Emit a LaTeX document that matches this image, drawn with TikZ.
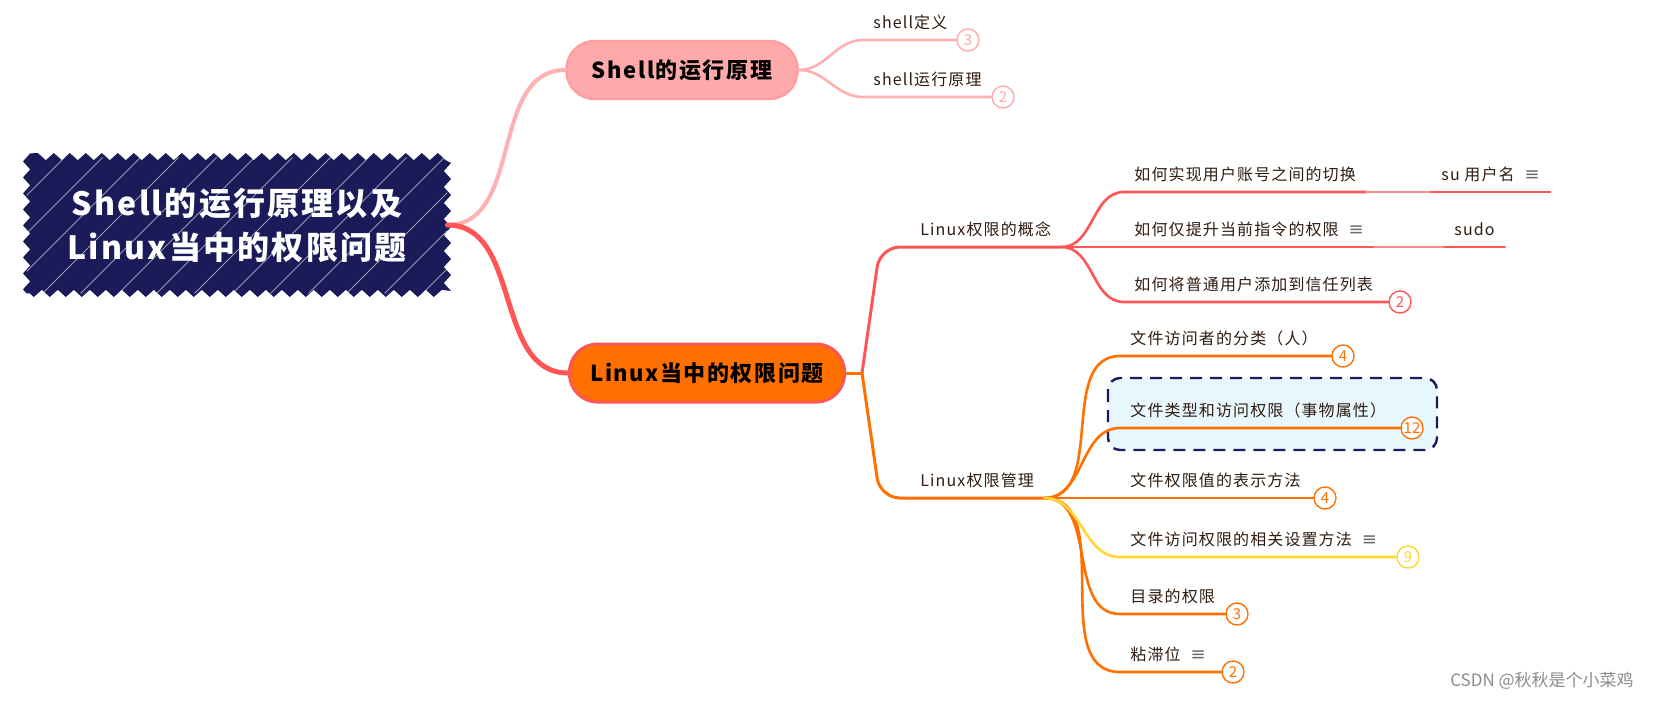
\documentclass[tikz,border=0pt]{standalone}
\usepackage{fontspec}
\setmainfont{Noto Sans CJK SC}[LetterSpace=7]
\newfontfamily\plainfont{Noto Sans CJK SC}
\newfontfamily\symfont{DejaVu Sans}
\usetikzlibrary{positioning, calc, backgrounds, decorations.pathmorphing}
\definecolor{rootnavy}{RGB}{27,27,90}
\definecolor{shellpink}{RGB}{255,170,170}
\definecolor{shelledge}{RGB}{255,158,158}
\definecolor{linkpink}{RGB}{255,176,176}
\definecolor{permred}{RGB}{255,85,85}
\definecolor{softred}{RGB}{255,140,140}
\definecolor{permorange}{RGB}{255,112,0}
\definecolor{noteyellow}{RGB}{255,214,50}
\definecolor{boxblue}{RGB}{232,246,254}
\definecolor{leaftext}{RGB}{48,28,16}
\definecolor{icongray}{RGB}{105,105,105}
\newcommand{\noteicon}{\hspace{5pt}{\symfont\fontsize{9}{9}\selectfont\color{icongray}≡}}
\tikzset{
  roottopic/.style={rectangle, minimum width=210pt, minimum height=68pt,
    align=center, text=white, font=\fontsize{16}{22}\selectfont\bfseries},
  topic/.style={rectangle, rounded corners=14pt, minimum height=29pt,
    font=\fontsize{11}{13}\selectfont\bfseries, text=black, line width=1.2pt},
  leaf/.style={anchor=south west, inner xsep=5pt, inner ysep=4.5pt,
    text height=7pt, text depth=1.2pt,
    font=\fontsize{8}{10}\selectfont, text=leaftext},
  badge/.style={circle, draw=#1, fill=white, text=#1, minimum size=11pt,
    inner sep=0pt, line width=0.7pt, font=\plainfont\fontsize{7.5}{8}\selectfont},
  link/.style={line width=#1, line cap=round},
  notebox/.style={draw=rootnavy, fill=boxblue, dashed, dash pattern=on 6pt off 4pt,
    line width=1.2pt, rounded corners=6pt}
}
\begin{document}
\begin{tikzpicture}[x=0.5pt, y=-0.5pt]
  \useasboundingbox (0,0) rectangle (1673,702);

  % central topic
  \node[roottopic] (root) at (237,225) {Shell的运行原理以及\\Linux当中的权限问题};

  % main topics
  \node[topic, fill=shellpink, draw=shelledge, minimum width=115.5pt] (shell) at (682,70) {Shell的运行原理};
  \node[topic, fill=permorange, draw=permred, line width=1.5pt, minimum width=137.5pt] (linux) at (707,373) {Linux当中的权限问题};

  \draw[link=2pt, linkpink] (root.east) to[out=0, in=180] (shell.west);
  \draw[link=2.5pt, permred] (root.east) to[out=0, in=180] (linux.west);

  % shell branch
  \node[leaf] (sdef) at (863,40) {shell定义};
  \node[badge=shellpink] (sdefn) at (968,40) {3};
  \node[leaf] (srun) at (863,97) {shell运行原理};
  \node[badge=shellpink] (srunn) at (1003,97) {2};
  \draw[link=1.3pt, linkpink] (shell.east) to[out=0, in=180] (sdef.south west) -- (sdefn);
  \draw[link=1.3pt, linkpink] (shell.east) to[out=0, in=180] (srun.south west) -- (srunn);

  % fork after the permission topic
  \coordinate (linuxfork) at (862,373);
  \draw[link=1.5pt, permorange] (linux.east) -- (linuxfork);

  % permission concepts
  \node[leaf] (concept) at (910,247) {Linux权限的概念};
  \draw[link=1.5pt, permred, rounded corners=10pt] (linuxfork) -- (880,247) -- (concept.south east);

  \node[leaf] (switch) at (1124,192) {如何实现用户账号之间的切换};
  \node[leaf] (su) at (1431,192) {su 用户名\noteicon};
  \node[leaf] (elevate) at (1124,247) {如何仅提升当前指令的权限\noteicon};
  \node[leaf] (sudo) at (1444,247) {sudo};
  \node[leaf] (trust) at (1124,302) {如何将普通用户添加到信任列表};
  \node[badge=permred] (trustn) at (1400,302) {2};

  \draw[link=1.3pt, permred] (concept.south east) to[out=0, in=180] (switch.south west) -- (switch.south east);
  \draw[link=1.3pt, permred] (concept.south east) to[out=0, in=180] (elevate.south west) -- (elevate.south east);
  \draw[link=1.3pt, permred] (concept.south east) to[out=0, in=180] (trust.south west) -- (trustn);
  \draw[link=1pt, softred] (switch.south east) -- (su.south west);
  \draw[link=1pt, permred] (su.south west) -- (su.south east);
  \draw[link=1pt, softred] (elevate.south east) -- (sudo.south west);
  \draw[link=1pt, permred] (sudo.south west) -- (sudo.south east);

  % permission management
  \node[leaf] (manage) at (910,498) {Linux权限管理};
  \draw[link=1.5pt, permorange, rounded corners=10pt] (linuxfork) -- (880,498) -- (manage.south east);

  \node[leaf] (visitor) at (1120,356) {文件访问者的分类（人）};
  \node[badge=permorange] (visitorn) at (1343,356) {4};
  \node[leaf] (ftype) at (1120,428) {文件类型和访问权限（事物属性）};
  \node[badge=permorange] (ftypen) at (1412,428) {12};
  \node[leaf] (fvalue) at (1120,498) {文件权限值的表示方法};
  \node[badge=permorange] (fvaluen) at (1325,498) {4};
  \node[leaf] (fset) at (1120,557) {文件访问权限的相关设置方法\noteicon};
  \node[badge=noteyellow] (fsetn) at (1408,557) {9};
  \node[leaf] (fdir) at (1120,614) {目录的权限};
  \node[badge=permorange] (fdirn) at (1237,614) {3};
  \node[leaf] (sticky) at (1120,672) {粘滞位\noteicon};
  \node[badge=permorange] (stickyn) at (1233,672) {2};

  \foreach \leafname in {visitor, ftype, fvalue, fdir, sticky}
    \draw[link=1.3pt, permorange] (manage.south east) to[out=0, in=180] (\leafname.south west) -- (\leafname n);
  \draw[link=1.3pt, noteyellow] (manage.south east) to[out=0, in=180] (fset.south west) -- (fsetn);

  % watermark
  \node[font=\plainfont\fontsize{8.5}{10}\selectfont, text=black!45] (mark) at (1542,681) {CSDN @秋秋是个小菜鸡};

  % backdrop: page, hatched root, highlight box
  \begin{scope}[on background layer]
    \fill[white] (0,0) rectangle (1673,702);
    \fill[rootnavy, decorate, decoration={zigzag, segment length=8pt, amplitude=1.8pt}]
      (root.south west) rectangle (root.north east);
    \begin{scope}
      \clip (root.south west) rectangle (root.north east);
      \foreach \i in {0,...,15}
        \draw[white, line width=0.5pt, opacity=0.55] ($(root.south west)+(\i*38-136,0)$) -- ++(136,-136);
    \end{scope}
    \draw[notebox] (1108,378) rectangle (1437,450);
  \end{scope}
\end{tikzpicture}
\end{document}
